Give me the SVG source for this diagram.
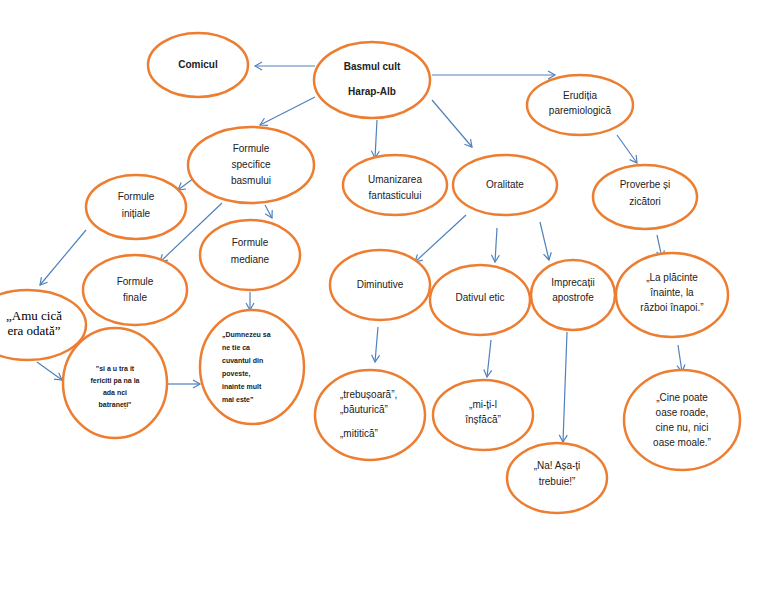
<svg xmlns="http://www.w3.org/2000/svg" width="768" height="594" viewBox="0 0 768 594">
<style>
.n{fill:#fff;stroke:#ED7D31;stroke-width:2.5}
.t{font-family:"Liberation Sans",Arial,sans-serif;font-size:10px;font-weight:bold;fill:#222;text-anchor:middle}
.r{font-weight:normal}
.l{text-anchor:start}
.s{font-size:7px}
.c line{stroke:#4F81BD;stroke-width:1.2;marker-end:url(#a)}
</style>
<defs><marker id="a" markerWidth="10" markerHeight="10" refX="8" refY="5" orient="auto" markerUnits="userSpaceOnUse"><path d="M1,1 L8,5 L1,9" fill="none" stroke="#4F81BD" stroke-width="1.2"/></marker></defs>
<rect width="768" height="594" fill="#fff"/>
<g class="c">
<line x1="315" y1="66" x2="255" y2="66"/>
<line x1="432" y1="75" x2="555" y2="75"/>
<line x1="315" y1="97" x2="260" y2="125"/>
<line x1="377" y1="120" x2="375" y2="158"/>
<line x1="432" y1="100" x2="472" y2="147"/>
<line x1="617" y1="135" x2="637" y2="163"/>
<line x1="657" y1="235" x2="662" y2="258"/>
<line x1="678" y1="345" x2="682" y2="372"/>
<line x1="198" y1="175" x2="178" y2="190"/>
<line x1="222" y1="203" x2="160" y2="262"/>
<line x1="265" y1="205" x2="272" y2="218"/>
<line x1="250" y1="292" x2="250" y2="310"/>
<line x1="466" y1="215" x2="415" y2="262"/>
<line x1="497" y1="228" x2="495" y2="262"/>
<line x1="540" y1="222" x2="549" y2="260"/>
<line x1="378" y1="327" x2="375" y2="362"/>
<line x1="491" y1="340" x2="487" y2="377"/>
<line x1="567" y1="332" x2="563" y2="442"/>
<line x1="86" y1="230" x2="40" y2="285"/>
<line x1="37" y1="362" x2="62" y2="380"/>
<line x1="168" y1="384" x2="200" y2="384"/>
</g>
<g id="comicul"><ellipse class="n" cx="198" cy="65" rx="50" ry="32"/><text class="t" x="198" y="68">Comicul</text></g>
<g id="basmul"><ellipse class="n" cx="372" cy="80" rx="58" ry="38"/><text class="t" x="372" y="70">Basmul cult</text><text class="t" x="372" y="95">Harap-Alb</text></g>
<g id="erudítia"><ellipse class="n" cx="580" cy="105" rx="53" ry="30"/><text class="t r" x="580" y="99">Erudiția</text><text class="t r" x="580" y="114">paremiologică</text></g>
<g id="specifice"><ellipse class="n" cx="251" cy="165" rx="63" ry="38"/><text class="t r" x="251" y="152">Formule</text><text class="t r" x="251" y="168">specifice</text><text class="t r" x="251" y="184">basmului</text></g>
<g id="umanizarea"><ellipse class="n" cx="395" cy="185" rx="52" ry="30"/><text class="t r" x="395" y="183">Umanizarea</text><text class="t r" x="395" y="199">fantasticului</text></g>
<g id="oralitate"><ellipse class="n" cx="505" cy="185" rx="52" ry="30"/><text class="t r" x="505" y="188">Oralitate</text></g>
<g id="proverbe"><ellipse class="n" cx="645" cy="197" rx="52" ry="32"/><text class="t r" x="645" y="188">Proverbe și</text><text class="t r" x="645" y="205">zicători</text></g>
<g id="initiale"><ellipse class="n" cx="136" cy="207" rx="50" ry="32"/><text class="t r" x="136" y="200">Formule</text><text class="t r" x="136" y="217">inițiale</text></g>
<g id="mediane"><ellipse class="n" cx="250" cy="255" rx="50" ry="35"/><text class="t r" x="250" y="246">Formule</text><text class="t r" x="250" y="263">mediane</text></g>
<g id="finale"><ellipse class="n" cx="135" cy="290" rx="52" ry="35"/><text class="t r" x="135" y="285">Formule</text><text class="t r" x="135" y="301">finale</text></g>
<g id="diminutive"><ellipse class="n" cx="380" cy="285" rx="50" ry="35"/><text class="t r" x="380" y="288">Diminutive</text></g>
<g id="dativul"><ellipse class="n" cx="480" cy="300" rx="50" ry="35"/><text class="t r" x="480" y="301">Dativul etic</text></g>
<g id="imprecatii"><ellipse class="n" cx="573" cy="295" rx="42" ry="35"/><text class="t r" x="573" y="286">Imprecații</text><text class="t r" x="573" y="301">apostrofe</text></g>
<g id="placinte"><ellipse class="n" cx="672" cy="295" rx="56" ry="42"/><text class="t r" x="672" y="281">„La plăcinte</text><text class="t r" x="672" y="296">înainte, la</text><text class="t r" x="672" y="311">război înapoi.”</text></g>
<g id="amu"><ellipse class="n" cx="28" cy="325" rx="58" ry="35"/><text x="34" y="320" font-family="Liberation Serif,serif" font-size="13" text-anchor="middle">„Amu cică</text><text x="34" y="335" font-family="Liberation Serif,serif" font-size="13" text-anchor="middle">era odată”</text></g>
<g id="siau"><ellipse class="n" cx="115" cy="383" rx="52" ry="55"/><text class="t s" x="115" y="371">"si a u tra it</text><text class="t s" x="115" y="383">fericiti pa na la</text><text class="t s" x="115" y="395">ada nci</text><text class="t s" x="115" y="407">batraneți"</text></g>
<g id="dumnezeu"><ellipse class="n" cx="252" cy="367" rx="52" ry="57"/><text class="t s l" x="222" y="337">„Dumnezeu sa</text><text class="t s l" x="222" y="350">ne tie ca</text><text class="t s l" x="222" y="363">cuvantul din</text><text class="t s l" x="222" y="376">poveste,</text><text class="t s l" x="222" y="389">inainte mult</text><text class="t s l" x="222" y="402">mai este”</text></g>
<g id="trebusoara"><ellipse class="n" cx="370" cy="415" rx="55" ry="45"/><text class="t r l" x="340" y="398">„trebușoară”,</text><text class="t r l" x="340" y="413">„băuturică”</text><text class="t r l" x="340" y="437">„mititică”</text></g>
<g id="mitil"><ellipse class="n" cx="483" cy="415" rx="50" ry="35"/><text class="t r" x="483" y="408">„mi-ți-l</text><text class="t r" x="483" y="423">înșfăcă”</text></g>
<g id="na"><ellipse class="n" cx="557" cy="478" rx="50" ry="35"/><text class="t r" x="557" y="469">„Na! Așa-ți</text><text class="t r" x="557" y="485">trebuie!”</text></g>
<g id="cine"><ellipse class="n" cx="682" cy="420" rx="58" ry="50"/><text class="t r" x="682" y="401">„Cine poate</text><text class="t r" x="682" y="416">oase roade,</text><text class="t r" x="682" y="431">cine nu, nici</text><text class="t r" x="682" y="446">oase moale.”</text></g>
</svg>
